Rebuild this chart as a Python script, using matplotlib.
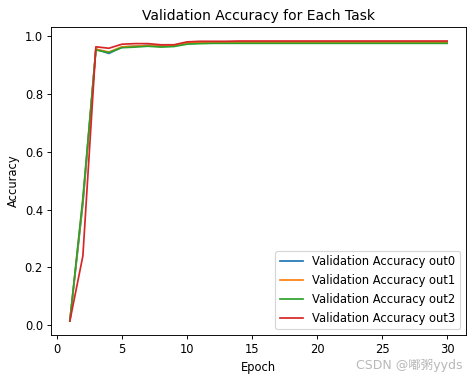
import matplotlib
matplotlib.use("Agg")
import matplotlib.pyplot as plt
import numpy as np

epochs = list(range(1, 31))

acc_out0 = [0.015, 0.42, 0.955, 0.940, 0.962, 0.965, 0.968, 0.966, 0.968, 0.977, 0.979, 0.979, 0.980,
            0.980, 0.980, 0.980, 0.980, 0.980, 0.980, 0.980, 0.980, 0.980, 0.980, 0.980, 0.980,
            0.980, 0.980, 0.980, 0.980, 0.980]
acc_out1 = [0.015, 0.43, 0.955, 0.945, 0.963, 0.965, 0.967, 0.965, 0.967, 0.976, 0.978, 0.978, 0.979,
            0.979, 0.979, 0.979, 0.979, 0.979, 0.979, 0.979, 0.979, 0.979, 0.979, 0.979, 0.979,
            0.979, 0.979, 0.979, 0.979, 0.979]
acc_out2 = [0.015, 0.44, 0.952, 0.943, 0.960, 0.962, 0.965, 0.962, 0.964, 0.972, 0.974, 0.975, 0.975,
            0.975, 0.975, 0.975, 0.975, 0.975, 0.975, 0.975, 0.975, 0.975, 0.975, 0.975, 0.975,
            0.975, 0.975, 0.975, 0.975, 0.975]
acc_out3 = [0.015, 0.24, 0.963, 0.958, 0.972, 0.974, 0.974, 0.970, 0.970, 0.980, 0.982, 0.982, 0.982,
            0.983, 0.983, 0.983, 0.983, 0.983, 0.983, 0.983, 0.983, 0.983, 0.983, 0.983, 0.983,
            0.983, 0.983, 0.983, 0.983, 0.983]

series = [acc_out0, acc_out1, acc_out2, acc_out3]
labels = [f"Validation Accuracy out{i}" for i in range(4)]

plt.rcParams["font.family"] = ["DejaVu Sans", "Noto Sans CJK SC"]

DPI = 83
fig = plt.figure(figsize=(474 / DPI, 380 / DPI), dpi=DPI)
ax = fig.add_axes([0.1076, 0.1184, 0.8755, 0.8105])
for vals, lab in zip(series, labels):
    ax.plot(epochs, vals, label=lab, linewidth=1.5)

ax.set_title("Validation Accuracy for Each Task")
ax.set_xlabel("Epoch")
ax.set_ylabel("Accuracy")
ax.legend(loc="lower right")

# CSDN watermark
fig.text(0.975, 0.02, "CSDN @嘟粥yyds", ha="right", va="bottom", color="#b8b8b8",
         fontsize=10.8, family=["DejaVu Sans", "Noto Sans CJK SC"])

fig.savefig("out.png", dpi=DPI)
